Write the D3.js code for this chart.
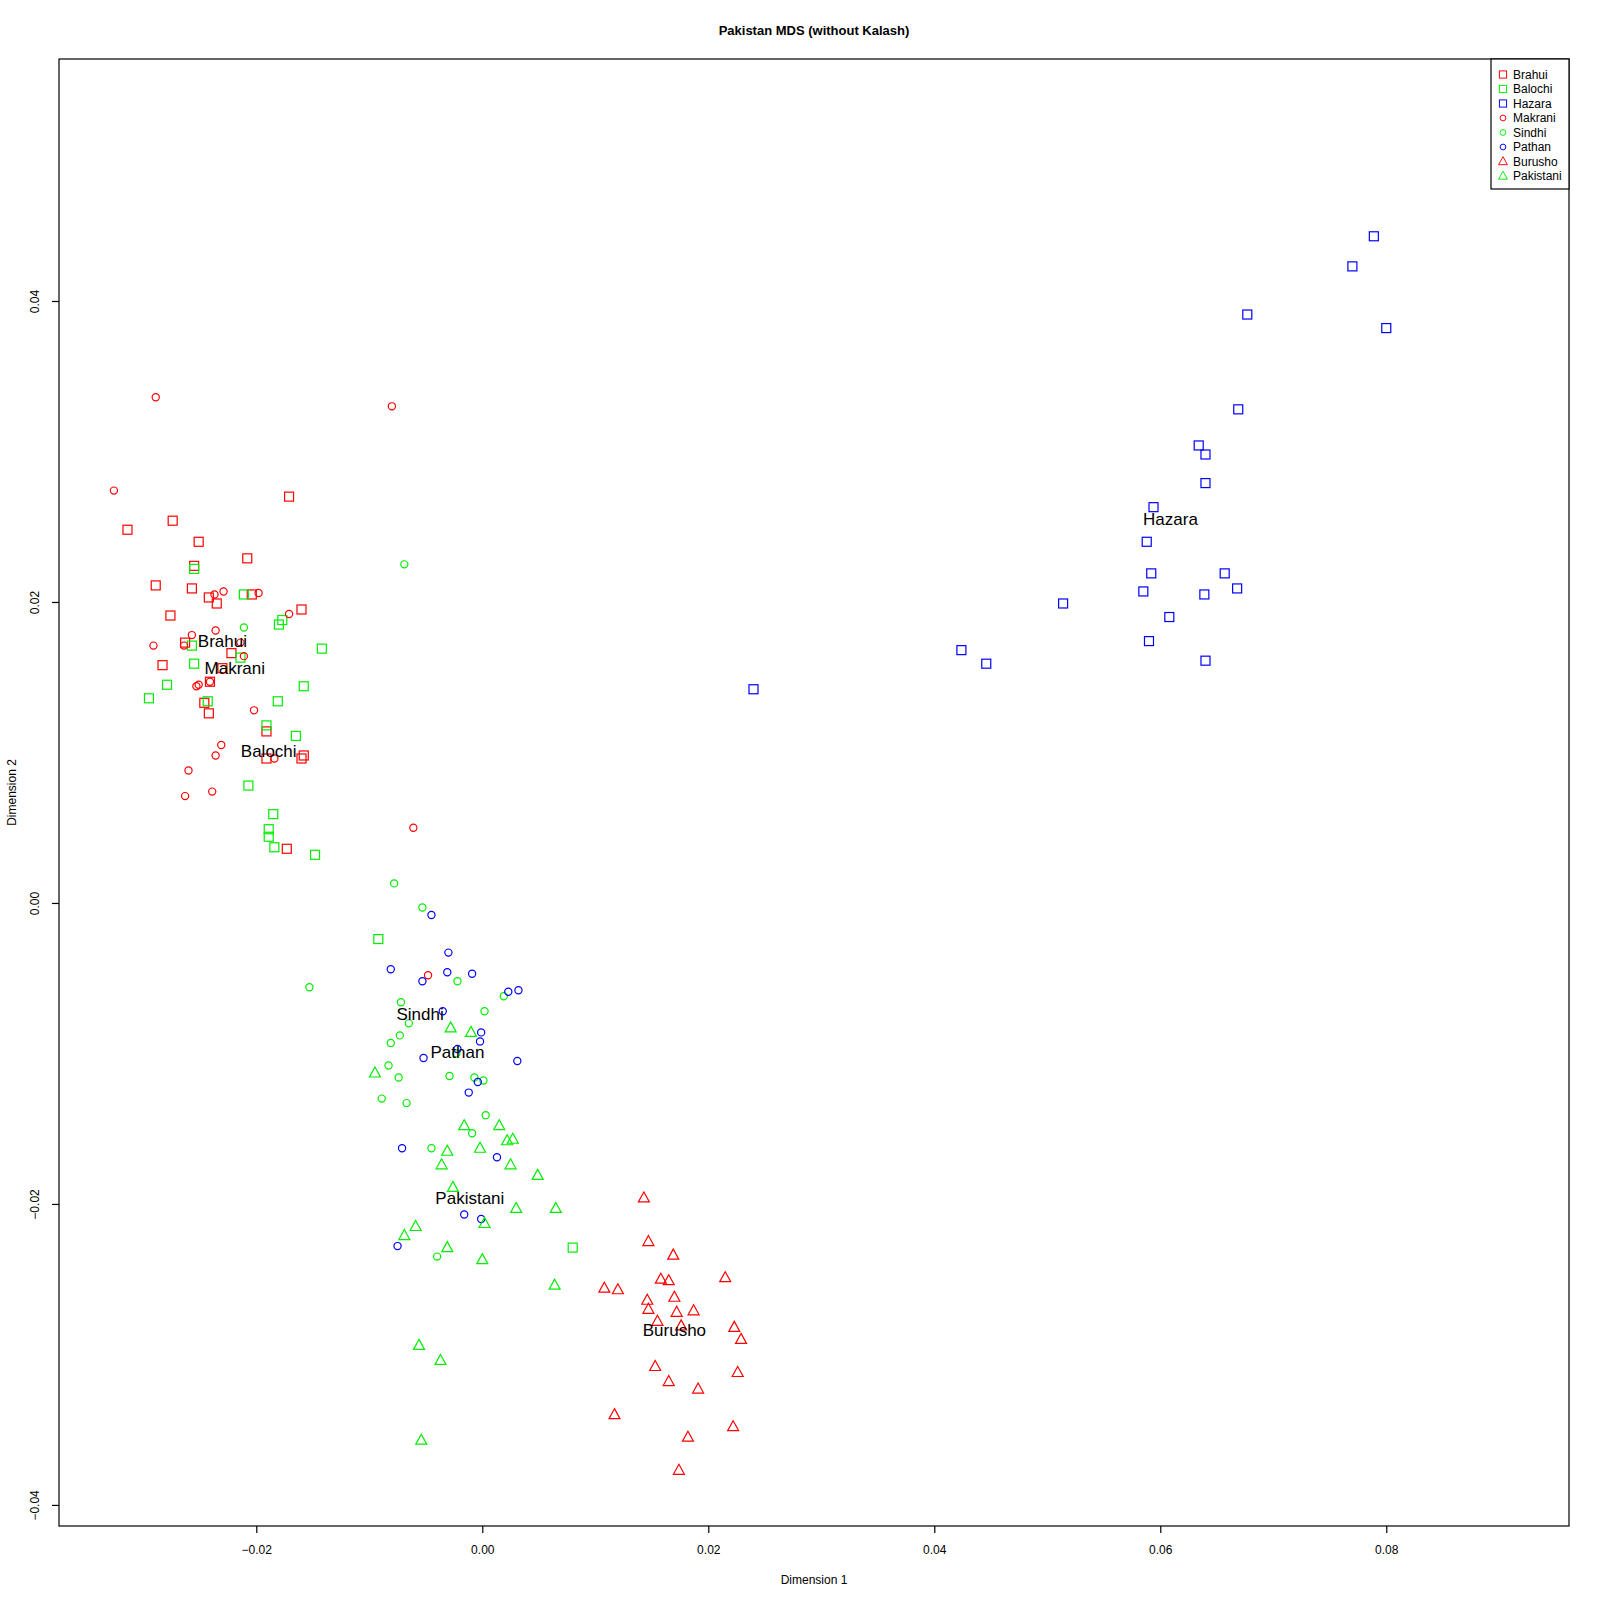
<!DOCTYPE html>
<html>
<head>
<meta charset="utf-8">
<script src="https://cdn.jsdelivr.net/npm/d3@7"></script>
<style>body{margin:0;background:#fff}text{font-family:Arial,"Liberation Sans",sans-serif}</style>
</head>
<body>
<svg id="chart" width="1600" height="1600"></svg>
<script>
// group order, colours and symbols (legend order)
const groups = ["Brahui", "Balochi", "Hazara", "Makrani", "Sindhi", "Pathan", "Burusho", "Pakistani"];
const colors = ["#ff0000", "#00ee00", "#0000ff", "#ff0000", "#00ee00", "#0000ff", "#ff0000", "#00ee00"];
const shapes = ["square", "square", "square", "circle", "circle", "circle", "triangle", "triangle"];

const brahuiX = [-0.0171,-0.0274,-0.0314,-0.0251,-0.0208,-0.0255,-0.0289,-0.0257,-0.0242,-0.0204,-0.0235,-0.0160,-0.0276,-0.0263,-0.0222,-0.0283,-0.0230,-0.0241,-0.0246,-0.0242,-0.0191,-0.0191,-0.0158,-0.0160,-0.0173];
const brahuiY = [0.0270,0.0254,0.0248,0.0240,0.0229,0.0224,0.0211,0.0209,0.0203,0.0205,0.0199,0.0195,0.0191,0.0173,0.0166,0.0158,0.0156,0.0147,0.0133,0.0126,0.0114,0.0096,0.0098,0.0096,0.0036];
const balochiX = [-0.0255,-0.0211,-0.0177,-0.0180,-0.0142,-0.0257,-0.0214,-0.0255,-0.0279,-0.0295,-0.0158,-0.0243,-0.0181,-0.0191,-0.0165,-0.0207,-0.0185,-0.0189,-0.0189,-0.0184,-0.0148,-0.0092,0.0080];
const balochiY = [0.0222,0.0205,0.0188,0.0185,0.0169,0.0171,0.0163,0.0159,0.0145,0.0136,0.0144,0.0134,0.0134,0.0118,0.0111,0.0078,0.0059,0.0049,0.0044,0.0037,0.0032,-0.0024,-0.0229];
const hazaraX = [0.0789,0.0770,0.0677,0.0800,0.0669,0.0634,0.0640,0.0640,0.0594,0.0588,0.0592,0.0657,0.0585,0.0668,0.0639,0.0514,0.0608,0.0590,0.0424,0.0446,0.0640,0.0240];
const hazaraY = [0.0443,0.0423,0.0391,0.0382,0.0328,0.0304,0.0298,0.0279,0.0263,0.0240,0.0219,0.0219,0.0207,0.0209,0.0205,0.0199,0.0190,0.0174,0.0168,0.0159,0.0161,0.0142];
const makraniX = [-0.0326,-0.0237,-0.0229,-0.0198,-0.0171,-0.0236,-0.0257,-0.0291,-0.0264,-0.0214,-0.0211,-0.0253,-0.0251,-0.0241,-0.0202,-0.0231,-0.0236,-0.0184,-0.0260,-0.0263,-0.0239,-0.0289,-0.0080,-0.0061,-0.0048];
const makraniY = [0.0274,0.0205,0.0207,0.0206,0.0192,0.0181,0.0178,0.0171,0.0171,0.0173,0.0164,0.0144,0.0145,0.0147,0.0128,0.0105,0.0098,0.0096,0.0088,0.0071,0.0074,0.0336,0.0330,0.0050,-0.0048];
const sindhiX = [-0.0211,-0.0069,-0.0153,-0.0078,-0.0053,-0.0022,-0.0072,0.0019,0.0002,-0.0065,-0.0073,-0.0081,-0.0083,-0.0074,-0.0029,-0.0007,0.0001,-0.0089,-0.0067,0.0003,-0.0009,-0.0045,-0.0023,-0.0040];
const sindhiY = [0.0183,0.0225,-0.0056,0.0013,-0.0003,-0.0052,-0.0066,-0.0062,-0.0072,-0.0080,-0.0088,-0.0093,-0.0108,-0.0116,-0.0115,-0.0116,-0.0118,-0.0130,-0.0133,-0.0141,-0.0153,-0.0163,-0.0100,-0.0235];
const pathanX = [-0.0045,-0.0030,-0.0081,-0.0031,-0.0009,-0.0053,0.0023,0.0032,-0.0035,-0.0001,-0.0002,-0.0022,-0.0052,0.0031,-0.0004,-0.0012,-0.0071,0.0013,-0.0016,-0.0001,-0.0075];
const pathanY = [-0.0008,-0.0033,-0.0044,-0.0046,-0.0047,-0.0052,-0.0059,-0.0058,-0.0072,-0.0086,-0.0092,-0.0097,-0.0103,-0.0105,-0.0119,-0.0126,-0.0163,-0.0169,-0.0207,-0.0210,-0.0228];
const burushoX = [0.0143,0.0147,0.0169,0.0158,0.0165,0.0215,0.0108,0.0120,0.0170,0.0146,0.0147,0.0172,0.0187,0.0155,0.0176,0.0223,0.0229,0.0153,0.0226,0.0165,0.0191,0.0117,0.0222,0.0182,0.0174];
const burushoY = [-0.0196,-0.0225,-0.0234,-0.0250,-0.0251,-0.0249,-0.0256,-0.0257,-0.0262,-0.0264,-0.0270,-0.0272,-0.0271,-0.0278,-0.0281,-0.0282,-0.0290,-0.0308,-0.0312,-0.0318,-0.0323,-0.0340,-0.0348,-0.0355,-0.0377];
const pakistaniX = [-0.0028,-0.0010,-0.0095,-0.0016,0.0015,0.0022,0.0027,-0.0002,-0.0031,-0.0036,0.0025,0.0049,-0.0026,0.0030,0.0065,0.0002,-0.0059,-0.0069,-0.0031,0.0000,0.0064,-0.0056,-0.0037,-0.0054];
const pakistaniY = [-0.0083,-0.0086,-0.0113,-0.0148,-0.0148,-0.0158,-0.0157,-0.0163,-0.0165,-0.0174,-0.0174,-0.0181,-0.0189,-0.0203,-0.0203,-0.0213,-0.0215,-0.0221,-0.0229,-0.0237,-0.0254,-0.0294,-0.0304,-0.0357];

// group label positions
const labelX = [-0.0230, -0.0189, 0.0609, -0.0219, -0.0055, -0.0022, 0.0170, -0.0011];
const labelY = [0.0173, 0.0100, 0.0254, 0.0155, -0.0075, -0.0100, -0.0285, -0.0197];

const xTicks = [-0.02, 0.00, 0.02, 0.04, 0.06, 0.08];
const yTicks = [-0.04, -0.02, 0.00, 0.02, 0.04];

const seriesX = [brahuiX, balochiX, hazaraX, makraniX, sindhiX, pathanX, burushoX, pakistaniX];
const seriesY = [brahuiY, balochiY, hazaraY, makraniY, sindhiY, pathanY, burushoY, pakistaniY];

const box = { left: 59, right: 1569, top: 59, bottom: 1526 };
const x = d3.scaleLinear().domain([-0.03746, 0.09617]).range([box.left, box.right]);
const y = d3.scaleLinear().domain([-0.0414, 0.05608]).range([box.bottom, box.top]);

const svg = d3.select("#chart");

//symbol drawing
function drawSymbol(g, shape, color, cx, cy) {
  if (shape === "square") {
    g.append("rect").attr("x", cx - 4.5).attr("y", cy - 4.5).attr("width", 9).attr("height", 9)
      .attr("fill", "none").attr("stroke", color).attr("stroke-width", 1.2);
  } else if (shape === "circle") {
    g.append("circle").attr("cx", cx).attr("cy", cy).attr("r", 3.6)
      .attr("fill", "none").attr("stroke", color).attr("stroke-width", 1.2);
  } else {
    g.append("path").attr("d", `M${cx},${cy - 6}L${cx + 5.5},${cy + 4}L${cx - 5.5},${cy + 4}Z`)
      .attr("fill", "none").attr("stroke", color).attr("stroke-width", 1.2);
  }
}

//points
const pts = svg.append("g");
groups.forEach((gName, i) => {
  seriesX[i].forEach((vx, j) => drawSymbol(pts, shapes[i], colors[i], x(vx), y(seriesY[i][j])));
});

//group labels
svg.append("g").selectAll("text").data(groups).join("text")
  .attr("x", (d, i) => x(labelX[i])).attr("y", (d, i) => y(labelY[i]))
  .attr("text-anchor", "middle").attr("dominant-baseline", "middle")
  .attr("font-size", 17).attr("fill", "#000").text(d => d);

//plot box
svg.append("rect").attr("x", box.left).attr("y", box.top)
  .attr("width", box.right - box.left).attr("height", box.bottom - box.top)
  .attr("fill", "none").attr("stroke", "#000").attr("stroke-width", 1.2);

//axes
const xAxis = svg.append("g").attr("transform", `translate(0,${box.bottom})`)
  .call(d3.axisBottom(x).tickValues(xTicks).tickSize(7).tickPadding(12).tickFormat(d3.format(".2f")));
const yAxis = svg.append("g").attr("transform", `translate(${box.left},0)`)
  .call(d3.axisLeft(y).tickValues(yTicks).tickSize(7).tickFormat(d3.format(".2f")));
[xAxis, yAxis].forEach(a => {
  a.select(".domain").remove();
  a.selectAll("line").attr("stroke", "#000").attr("stroke-width", 1.2);
  a.selectAll("text").attr("font-size", 12).attr("fill", "#000").attr("font-family", "Arial, Liberation Sans, sans-serif");
});
yAxis.selectAll(".tick text").attr("transform", "translate(-20,0) rotate(-90)")
  .attr("x", 0).attr("y", 0).attr("dy", "0em").attr("text-anchor", "middle");

//titles
svg.append("text").attr("x", (box.left + box.right) / 2).attr("y", 35).attr("text-anchor", "middle")
  .attr("font-size", 13).attr("font-weight", "bold").text("Pakistan MDS (without Kalash)");
svg.append("text").attr("x", (box.left + box.right) / 2).attr("y", 1584).attr("text-anchor", "middle")
  .attr("font-size", 12).text("Dimension 1");
svg.append("text").attr("transform", `translate(16,${(box.top + box.bottom) / 2}) rotate(-90)`)
  .attr("text-anchor", "middle").attr("font-size", 12).text("Dimension 2");

//legend
const leg = svg.append("g");
leg.append("rect").attr("x", 1491).attr("y", box.top).attr("width", box.right - 1491).attr("height", 130)
  .attr("fill", "#fff").attr("stroke", "#000").attr("stroke-width", 1.2);
groups.forEach((gName, i) => {
  const ly = 74.5 + i * 14.5;
  const s = leg.append("g").attr("transform", `translate(1503,${ly}) scale(0.8)`);
  drawSymbol(s, shapes[i], colors[i], 0, 0);
  leg.append("text").attr("x", 1513).attr("y", ly).attr("dy", "0.35em")
    .attr("font-size", 12).attr("fill", "#000").text(gName);
});
</script>
</body>
</html>
